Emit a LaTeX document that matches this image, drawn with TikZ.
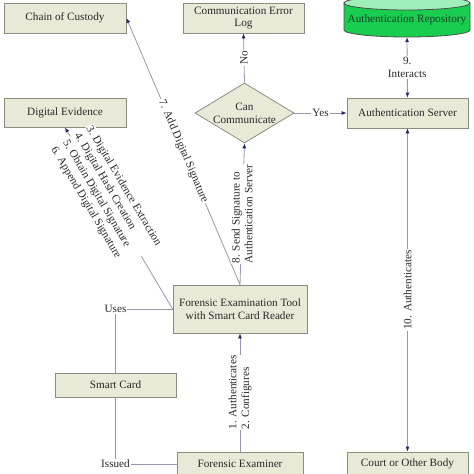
\documentclass[tikz,border=0pt]{standalone}
\usepackage{fontspec}
\setmainfont{Liberation Serif}
\usetikzlibrary{arrows.meta,shapes.geometric}
\definecolor{boxfill}{RGB}{233,233,216}
\definecolor{boxdraw}{RGB}{140,140,128}
\definecolor{linec}{RGB}{150,152,175}
\definecolor{tipc}{RGB}{30,40,90}
\definecolor{textc}{RGB}{40,40,40}
\definecolor{cylbody}{RGB}{25,205,80}
\definecolor{cyltop}{RGB}{160,238,185}
\definecolor{cyledge}{RGB}{70,80,70}
\definecolor{repotext}{RGB}{20,60,35}
\begin{document}
\begin{tikzpicture}[x=1pt,y=-1pt,
  every node/.style={font=\fontsize{11.2}{12.8}\selectfont, text=textc},
  box/.style={draw=boxdraw, line width=0.8pt, fill=boxfill, inner sep=1pt, align=center},
  conn/.style={draw=linec, line width=0.8pt},
  tip/.style={-{Latex[length=5pt,width=4pt,color=tipc]}},
  tips/.style={{Latex[length=5pt,width=4pt,color=tipc]}-{Latex[length=5pt,width=4pt,color=tipc]}},
  lab/.style={fill=white, inner sep=1pt}
]
\useasboundingbox (0,0) rectangle (474,474);
\clip (0,0) rectangle (474,474);

% cylinder (Authentication Repository)
\filldraw[fill=cylbody, draw=cyledge, line width=0.8pt]
  (344,3) -- (344,30) .. controls (344,33.87) and (372.2,37) .. (407,37)
  .. controls (441.8,37) and (470,33.87) .. (470,30) -- (470,3) -- cycle;
\filldraw[fill=cyltop, draw=cyledge, line width=0.8pt] (407,3) ellipse [x radius=63pt, y radius=7pt];
\node[inner sep=0, minimum width=126pt, minimum height=34pt, text=repotext] (repo) at (407,20) {Authentication Repository};

% boxes
\node[box, minimum width=122pt, minimum height=30pt] (chain) at (65,18) {Chain of Custody};
\node[box, minimum width=121pt, minimum height=30pt] (cel) at (243.5,18) {Communication Error\\Log};
\node[box, minimum width=122pt, minimum height=29pt] (de) at (65,112.5) {Digital Evidence};
\node[draw=boxdraw, line width=0.8pt, fill=boxfill, diamond, aspect=1.65, inner sep=0.5pt, align=center] (dia) at (244.5,113) {Can\\Communicate};
\node[box, minimum width=121pt, minimum height=30pt] (server) at (407.5,113) {Authentication Server};
\node[box, minimum width=134pt, minimum height=48pt] (tool) at (240,309) {Forensic Examination Tool\\with Smart Card Reader};
\node[box, minimum width=121pt, minimum height=24pt] (card) at (115.5,385) {Smart Card};
\node[box, minimum width=126pt, minimum height=24pt] (exam) at (240,464) {Forensic Examiner};
\node[box, minimum width=121pt, minimum height=24pt] (court) at (407.5,464) {Court or Other Body};

% connectors
\draw[conn, tip] (tool.north) -- node[lab, sloped] {7. Add Digital Signature} (chain.east);
\draw[conn, tip] (tool.north) -- node[lab, rotate=90, align=left] {8. Send Signature to\\Authentication Server} (dia.south);
\draw[conn, tip] (dia.north) -- node[lab, rotate=90] {No} (cel.south);
\draw[conn, tip] (dia.east) -- node[lab] {Yes} (server.west);
\draw[conn, tips] (server.north) -- node[lab, align=center] {9.\\Interacts} (repo.south);
\draw[conn, tips] (server.south) -- node[lab, rotate=90] {10. Authenticates} (court.north);
\draw[conn, tip] (exam.north) -- node[lab, rotate=90, align=left] {1. Authenticates\\2. Configures} (tool.south);
\draw[conn, tip] (tool.west) -- node[lab, sloped, align=left, pos=0.62, font=\fontsize{11.2}{13.6}\selectfont] {3. Digital Evidence Extraction\\4. Digital Hash Creation\\5. Obtain Digital Signature\\6. Append Digital Signature} (de.south);
\draw[conn] (tool.west) -| node[lab, pos=0.5] {Uses} (card.north);
\draw[conn] (card.south) |- node[lab, pos=0.5] {Issued} (exam.west);
\end{tikzpicture}
\end{document}
